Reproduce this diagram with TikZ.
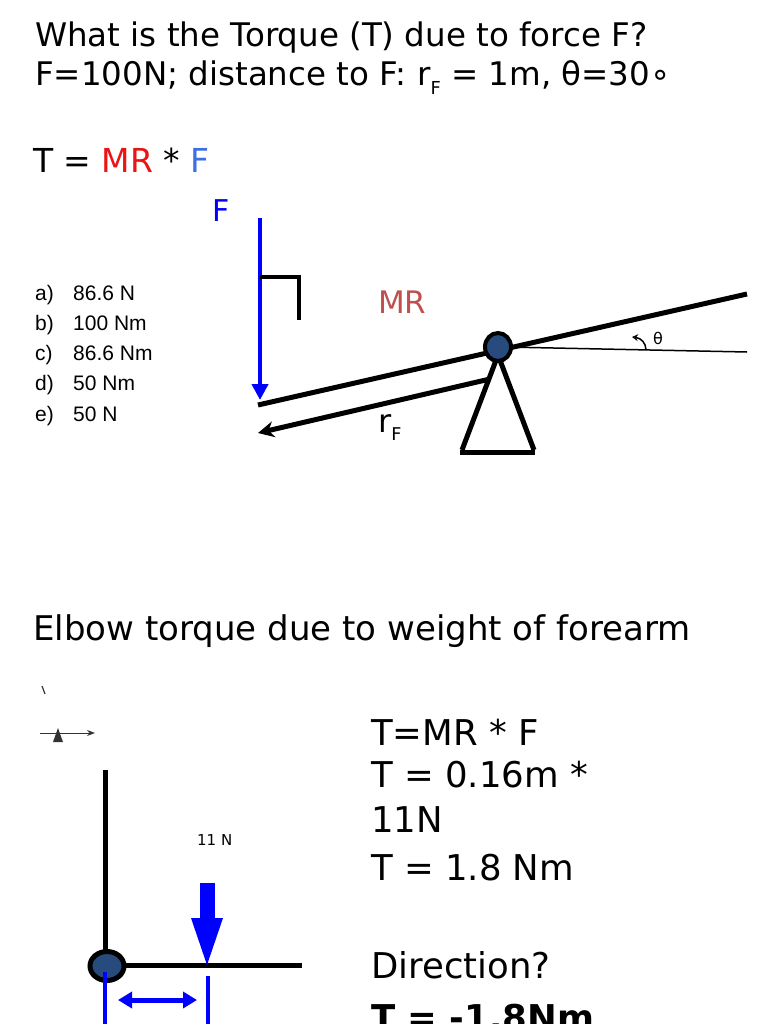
\documentclass[tikz,border=0pt]{standalone}
\usepackage{fontspec}
\setmainfont{DejaVu Sans}
\newfontfamily\arial{Liberation Sans}
\usetikzlibrary{arrows.meta,shapes.geometric}
\definecolor{mrred}{RGB}{235,20,20}
\definecolor{fblue}{RGB}{60,110,230}
\definecolor{mrlab}{RGB}{190,80,80}
\definecolor{pivot}{RGB}{40,75,125}
\definecolor{thin}{RGB}{90,130,180}
\newcommand{\subF}{\raisebox{-0.25em}{\scalebox{0.55}{F}}}
\begin{document}
\begin{tikzpicture}[x=1pt,y=-1pt,
  txt/.style={anchor=base west,inner sep=0pt},
  beam/.style={line width=5pt},
  blueline/.style={draw=blue,line width=4pt}]
\useasboundingbox (0,0) rectangle (768,1024);
\node[txt,font=\fontsize{32.5}{34}\selectfont] (t1) at (35,47) {What is the Torque (T) due to force F?};
\node[txt,font=\fontsize{32.5}{34}\selectfont] (t2) at (35,86) {F=100N; distance to F: r\subF{} = 1m, θ=30∘};
\node[txt,font=\fontsize{33}{34}\selectfont] (eq) at (33,173) {T = \textcolor{mrred}{MR} * \textcolor{fblue}{F}};
\node[txt,font=\fontsize{30}{34}\selectfont,text=blue] (F) at (212,222) {F};
\foreach \l/\v [count=\i] in {a)/86.6 N,b)/100 Nm,c)/86.6 Nm,d)/50 Nm,e)/50 N}{
  \node[txt,font=\arial\fontsize{21}{30}\selectfont] (al\i) at (35,300+30.3*\i-30.3) {\l};
  \node[txt,font=\arial\fontsize{21}{30}\selectfont] (av\i) at (73,300+30.3*\i-30.3) {\v};
}
% seesaw
\coordinate (fa) at (260,218);
\coordinate (fb) at (260,400);
\draw[blue,line width=4pt,-{Triangle[length=16pt,width=16pt]}] (fa) -- (fb);
\draw[line width=4pt] (260,277) -- (299,277) -- (299,320);
\coordinate (bl) at (258,405);
\coordinate (br) at (747,294);
\draw[beam] (bl) -- (br);
\coordinate (tri) at (498,355);
\draw[line width=5pt,line join=round] (tri) -- (462,450);
\draw[line width=5pt] (tri) -- (534,450);
\draw[line width=5pt] (460,452) -- (535,452);
\coordinate (tl) at (747,352);
\draw[thin,line width=1.5pt] (505,347) -- (tl);
\node[draw=black,line width=4pt,fill=pivot,ellipse,minimum width=26pt,minimum height=28pt,inner sep=0pt] (pv) at (498,347) {};
\coordinate (aa) at (646,350);
\coordinate (ab) at (632,337);
\draw[thin,line width=1.5pt,-{Stealth[length=6pt,width=7pt,open]}] (aa) .. controls (646,343) and (641,338) .. (ab);
\node[txt,font=\fontsize{16}{18}\selectfont] (th) at (653,344) {θ};
\draw[line width=5pt,-{Stealth[length=16pt,width=16pt]}] (490,379) -- (258,433);
\node[txt,font=\fontsize{32}{34}\selectfont] (rf) at (378,432) {r\subF};
\node[txt,font=\fontsize{31}{34}\selectfont,text=mrlab] (mr) at (378,313) {MR};
% elbow
\node[txt,font=\fontsize{34}{36}\selectfont] (e1) at (33,640) {Elbow torque due to weight of forearm};
\draw[line width=1.2pt,black!80] (42,686) -- (45,694);
\draw[line width=1pt,black!80,-{Stealth[length=8pt]}] (40,733) -- (95,733);
\fill[black!80] (58,728) -- (53,742) -- (63,742) -- cycle;
\draw[line width=5pt] (105,770) -- (105,966);
\draw[line width=5pt] (107,965) -- (302,965);
\node[draw=black,line width=5pt,fill=pivot,ellipse,minimum width=34pt,minimum height=29pt,inner sep=0pt] (ep) at (107,966) {};
\node[txt,font=\fontsize{15}{16}\selectfont] (n11) at (197,845) {11 N};
\fill[blue] (200,883) rectangle (215,918);
\fill[blue] (191,918) -- (223,918) -- (207,965) -- cycle;
\draw[blueline] (105,972) -- (105,1024);
\draw[blueline] (208,976) -- (208,1024);
\draw[blue,line width=5pt,{Triangle[length=14pt,width=16pt]}-{Triangle[length=14pt,width=16pt]}] (118,1000) -- (197,1000);
\foreach \t/\y [count=\i] in {T=MR * F/745,T = 0.16m */787,11N/832,T = 1.8 Nm/880,Direction?/978}{
  \node[txt,font=\fontsize{35.5}{38}\selectfont] (r\i) at (371,\y) {\t};
}
\node[txt,font=\bfseries\fontsize{35.5}{38}\selectfont] (r6) at (371,1030) {T = -1.8Nm};
\end{tikzpicture}
\end{document}
